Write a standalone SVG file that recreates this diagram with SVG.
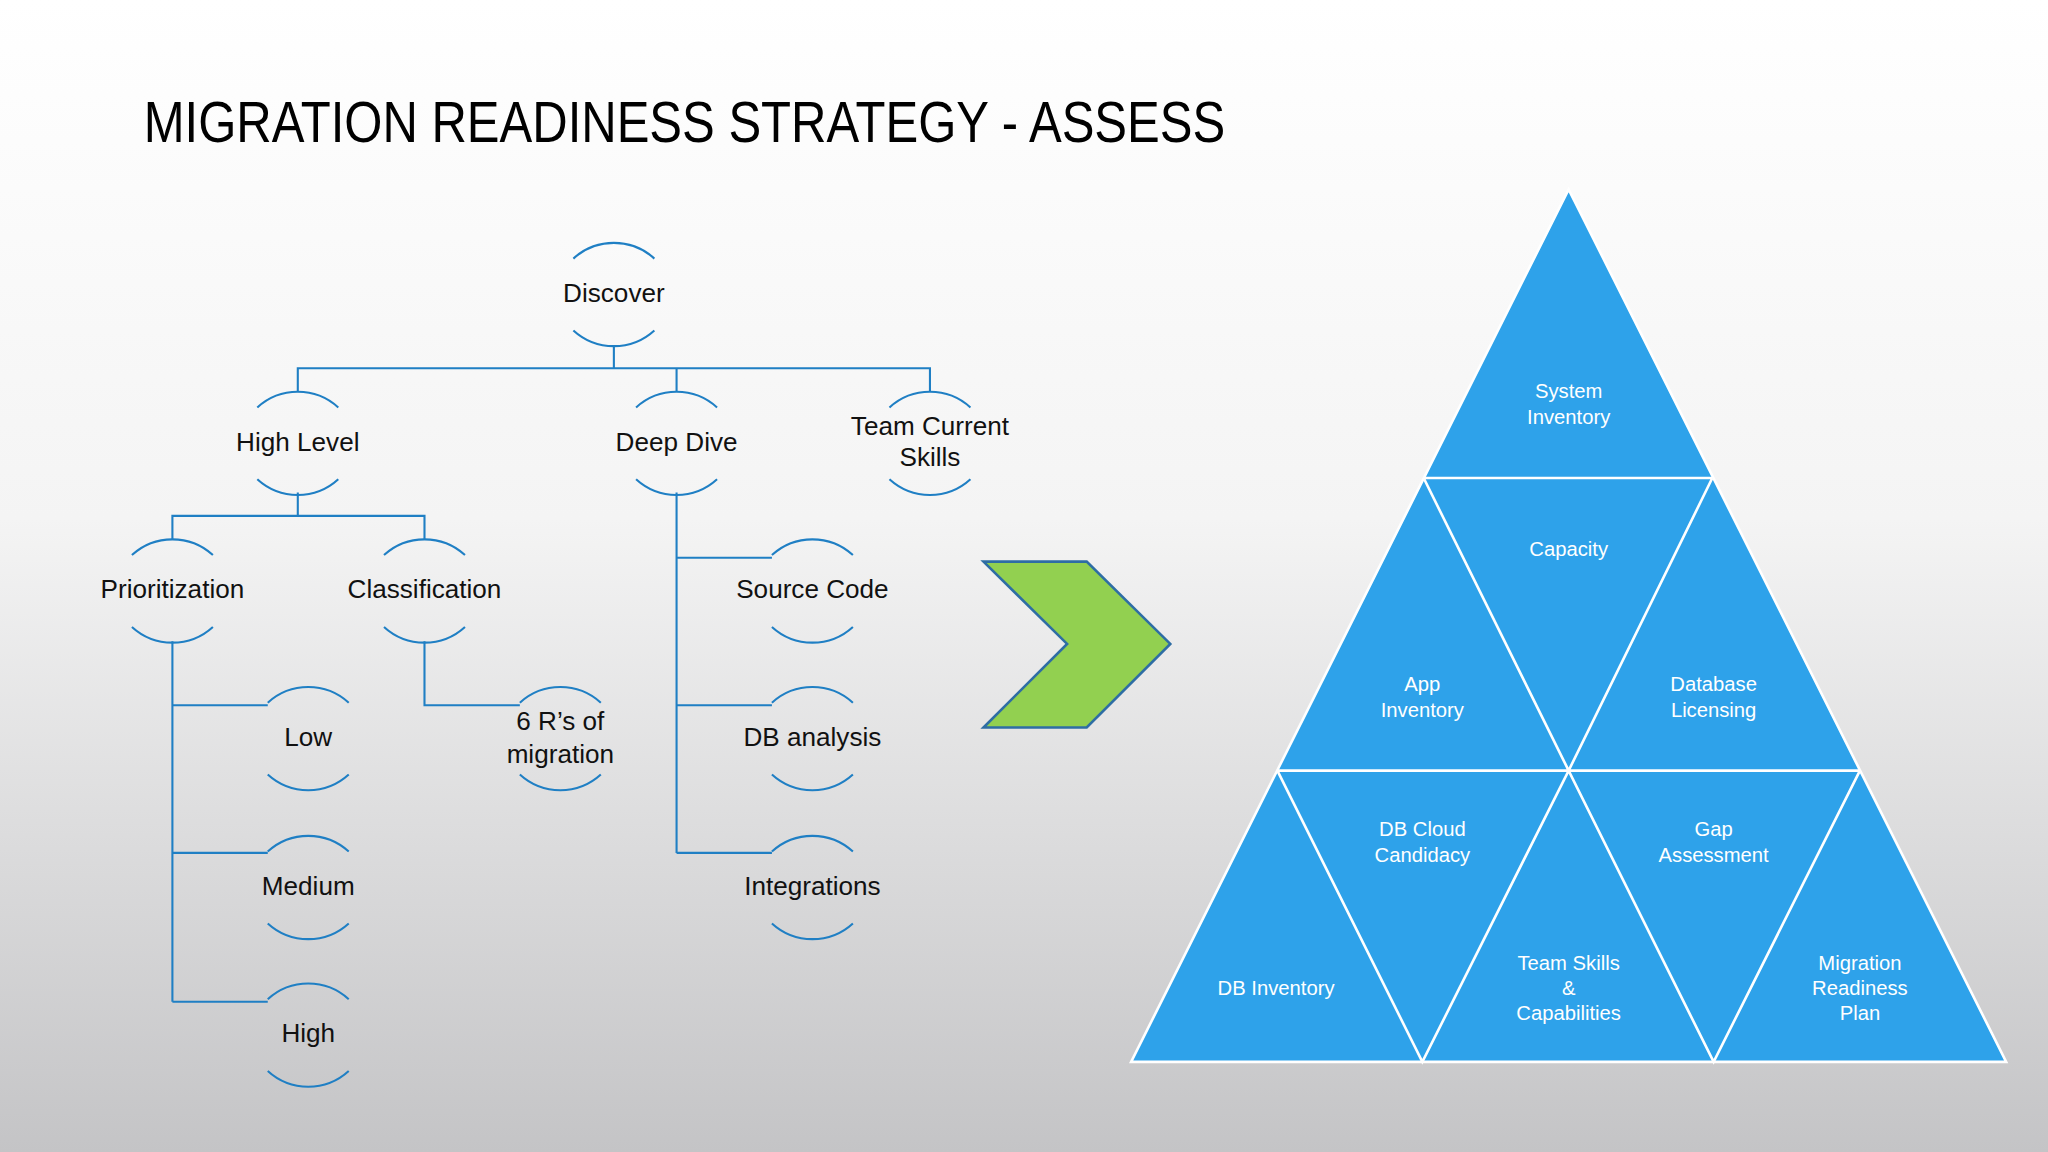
<svg xmlns="http://www.w3.org/2000/svg" width="2048" height="1152" viewBox="0 0 2048 1152">
<defs>
<linearGradient id="bg" x1="0" y1="0" x2="0" y2="1">
<stop offset="0" stop-color="#ffffff"/><stop offset="0.45" stop-color="#f4f4f4"/><stop offset="1" stop-color="#c4c4c6"/>
</linearGradient>
<style>
.arc{fill:none;stroke:#1f7fc4;stroke-width:1.6}
.con{fill:none;stroke:#1f7fc4;stroke-width:1.6}
.nt{font-family:"Liberation Sans",Arial,sans-serif;font-size:20px;fill:#111;text-anchor:middle}
.pt{font-family:"Liberation Sans",Arial,sans-serif;font-size:15.5px;fill:#fff;text-anchor:middle}
.tri{fill:#2ea2ea;stroke:#fff;stroke-width:2}
</style>
</defs>
<rect width="2048" height="1152" fill="url(#bg)"/>
<g transform="scale(1.30612)">
<text x="110" y="109" font-family="Liberation Sans,Arial,sans-serif" font-size="44" fill="#000" textLength="828" lengthAdjust="spacingAndGlyphs">MIGRATION READINESS STRATEGY - ASSESS</text>
<g id="connectors">
<path class="con" d="M470,265V282M228,300V282H712V300M518,282V300"/>
<path class="con" d="M228,377V395M132,413V395H325V413"/>
<path class="con" d="M518,377V653M518,427H591M518,540H591M518,653H591"/>
<path class="con" d="M132,491V767M132,540H205M132,653H205M132,767H205"/>
<path class="con" d="M325,491V540H398"/>
</g>
<g id="n-discover"><path class="arc" d="M439,198A46,46 0 0 1 501,198M439,253A46,46 0 0 0 501,253"/><text class="nt" x="470" y="231">Discover</text></g>
<g id="n-highlevel"><path class="arc" d="M197,312A46,46 0 0 1 259,312M197,367A46,46 0 0 0 259,367"/><text class="nt" x="228" y="345">High Level</text></g>
<g id="n-deepdive"><path class="arc" d="M487,312A46,46 0 0 1 549,312M487,367A46,46 0 0 0 549,367"/><text class="nt" x="518" y="345">Deep Dive</text></g>
<g id="n-team"><path class="arc" d="M681,312A46,46 0 0 1 743,312M681,367A46,46 0 0 0 743,367"/><text class="nt" x="712" y="333">Team Current</text><text class="nt" x="712" y="357">Skills</text></g>
<g id="n-prio"><path class="arc" d="M101,425A46,46 0 0 1 163,425M101,480A46,46 0 0 0 163,480"/><text class="nt" x="132" y="458">Prioritization</text></g>
<g id="n-class"><path class="arc" d="M294,425A46,46 0 0 1 356,425M294,480A46,46 0 0 0 356,480"/><text class="nt" x="325" y="458">Classification</text></g>
<g id="n-source"><path class="arc" d="M591,425A46,46 0 0 1 653,425M591,480A46,46 0 0 0 653,480"/><text class="nt" x="622" y="458">Source Code</text></g>
<g id="n-db"><path class="arc" d="M591,538A46,46 0 0 1 653,538M591,593A46,46 0 0 0 653,593"/><text class="nt" x="622" y="571">DB analysis</text></g>
<g id="n-integ"><path class="arc" d="M591,652A46,46 0 0 1 653,652M591,707A46,46 0 0 0 653,707"/><text class="nt" x="622" y="685">Integrations</text></g>
<g id="n-low"><path class="arc" d="M205,538A46,46 0 0 1 267,538M205,593A46,46 0 0 0 267,593"/><text class="nt" x="236" y="571">Low</text></g>
<g id="n-medium"><path class="arc" d="M205,652A46,46 0 0 1 267,652M205,707A46,46 0 0 0 267,707"/><text class="nt" x="236" y="685">Medium</text></g>
<g id="n-high"><path class="arc" d="M205,765A46,46 0 0 1 267,765M205,820A46,46 0 0 0 267,820"/><text class="nt" x="236" y="798">High</text></g>
<g id="n-6rs"><path class="arc" d="M398,538A46,46 0 0 1 460,538M398,593A46,46 0 0 0 460,593"/><text class="nt" x="429" y="559">6 R’s of</text><text class="nt" x="429" y="584">migration</text></g>
<g id="chevron"><polygon points="753,430 832,430 896,493 832,557 753,557 817,493" fill="#92d050" stroke="#2e6da4" stroke-width="2"/></g>
<g id="pyramid">
<polygon class="tri" points="1201,145 1536,813 866,813"/>
<path fill="none" stroke="#fff" stroke-width="2" d="M1090,366H1311M978,590H1424M1090,366L1201,590L1311,366M978,590L1089,813L1201,590L1312,813L1424,590"/>
<text class="pt" x="1201" y="305">System</text><text class="pt" x="1201" y="325">Inventory</text>
<text class="pt" x="1201" y="426">Capacity</text>
<text class="pt" x="1089" y="529">App</text><text class="pt" x="1089" y="549">Inventory</text>
<text class="pt" x="1312" y="529">Database</text><text class="pt" x="1312" y="549">Licensing</text>
<text class="pt" x="1089" y="640">DB Cloud</text><text class="pt" x="1089" y="660">Candidacy</text>
<text class="pt" x="1312" y="640">Gap</text><text class="pt" x="1312" y="660">Assessment</text>
<text class="pt" x="977" y="762">DB Inventory</text>
<text class="pt" x="1201" y="743">Team Skills</text><text class="pt" x="1201" y="762">&amp;</text><text class="pt" x="1201" y="781">Capabilities</text>
<text class="pt" x="1424" y="743">Migration</text><text class="pt" x="1424" y="762">Readiness</text><text class="pt" x="1424" y="781">Plan</text>
</g>
</g>
</svg>
